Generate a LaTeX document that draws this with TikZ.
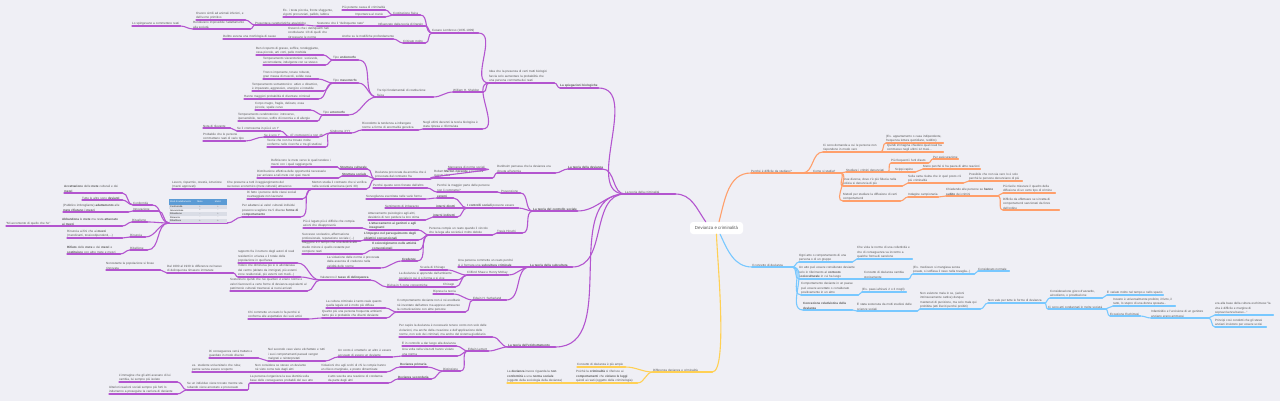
\documentclass[tikz,border=0pt]{standalone}
\usepackage{fontspec}
\setmainfont{Liberation Sans}
\usetikzlibrary{positioning}
\definecolor{bgcol}{HTML}{EFEFF5}
\definecolor{txtcol}{HTML}{555555}
\definecolor{purcol}{HTML}{B355CF}
\definecolor{orgcol}{HTML}{FF9F6B}
\definecolor{blucol}{HTML}{78C8FF}
\definecolor{yelcol}{HTML}{FFD054}
\definecolor{tblhead}{HTML}{5B9BD5}
\definecolor{tblrow}{HTML}{DADDE6}
\tikzset{
  tpc/.style={anchor=south west,inner xsep=0pt,inner ysep=0.7pt,align=left,text=txtcol,font=\fontsize{3.05}{4.4}\selectfont,execute at begin node={\rightskip=-30pt plus 1fil\relax}},
  wd/.style={text width=#1pt},
  pl/.style={purcol,line width=1.1pt,line cap=round},
  ol/.style={orgcol,line width=1.1pt,line cap=round},
  bl/.style={blucol,line width=1.1pt,line cap=round},
  yl/.style={yelcol,line width=1.1pt,line cap=round},
  pur/.style={tpc,wd=#1,append after command={(\tikzlastnode.south west) edge[pl] (\tikzlastnode.south east)}},
  org/.style={tpc,wd=#1,append after command={(\tikzlastnode.south west) edge[ol] (\tikzlastnode.south east)}},
  blu/.style={tpc,wd=#1,append after command={(\tikzlastnode.south west) edge[bl] (\tikzlastnode.south east)}},
  yel/.style={tpc,wd=#1,append after command={(\tikzlastnode.south west) edge[yl] (\tikzlastnode.south east)}},
  tbltxt/.style={inner sep=0pt,text=txtcol,font=\fontsize{2.3}{2.6}\selectfont},
}
\begin{document}
\begin{tikzpicture}[x=1pt,y=-1pt]
\fill[bgcol] (0,0) rectangle (1280,401);
\useasboundingbox (0,0) rectangle (1280,401);
\node[fill=white,rounded corners=3pt,text=txtcol,font=\fontsize{4.4}{5}\selectfont,minimum width=53pt,minimum height=12pt,inner sep=0pt] (center) at (716.5,228) {Devianza e criminalità};
% viola: biologia
\node[pur=50] (crim) at (625,194) {La teoria della criminalità};
\node[pur=38] (biol) at (560,88) {\textbf{La spiegazioni biologiche}};
\node[pur=65] (idea) at (489,83) {Idea che la presenza di certi tratti biologici\\faccia solo aumentare la probabilità che\\una persona commetta dei reati};
\node[pur=46] (lomb) at (432,33) {Cesare Lombroso (1835-1909)};
\node[pur=30] (shel) at (453,92) {William H. Sheldon};
\node[pur=59] (negli) at (423,129) {Negli ultimi decenni la teoria biologica è\\stata ripresa e riformulata};
\node[pur=27] (cost) at (393,15) {Costituzione fisica};
\node[pur=47] (darw) at (378,26) {Influenzato dalla teoria di Darwin};
\node[pur=22] (crit) at (403,43) {Criticato molto};
\node[pur=43] (pote) at (342,10) {Più potente causa di criminalità};
\node[pur=30] (cran) at (355,17) {Importanza al cranio};
\node[pur=55] (zigo) at (283,17) {Es. i testa piccola, fronte sfuggente,\\zigomi pronunciati, pallido, labbra};
\node[pur=58] (sost) at (317,26) {Sostenne che il "delinquente nato"};
\node[pur=48] (pres) at (255,25) {Presentava caratteristiche atavistiche};
\node[pur=49] (ovve) at (196,20) {Ovvero simili ad animali inferiori, e\\dell'uomo primitivo};
\node[pur=57] (rend) at (193,29) {Rendevano impossibile l'adattamento\\alla società};
\node[pur=48] (spin) at (132,26) {Lo spingevano a commettere reati};
\node[pur=51] (anch) at (342,39) {Anche su le modifiche profondamente};
\node[pur=50] (osse) at (288,39) {Osservò che i delinquenti nati\\costituivano 1/3 di quelli che\\ritrovavano le norme};
\node[pur=54] (deli) at (223,39) {Delitto avrena una morfologia di cause};
\node[pur=56] (tre) at (377,97) {Tre tipi fondamentali di costituzione\\fisica};
\node[pur=25] (endo) at (333,60) {Tipo \textbf{endomorfo}};
\node[pur=25] (meso) at (333,83) {Tipo \textbf{mesomorfo}};
\node[pur=25] (ecto) at (323,115) {Tipo \textbf{ectomorfo}};
\node[pur=67] (ben) at (256,55) {Ben ricoperto di grasso, soffice, tondeggiante,\\ossa piccole, arti corti, pelle morbida};
\node[pur=62] (visc) at (263,65) {Temperamento viscerotonico: socievole,\\accomodante, indulgente con se stesso};
\node[pur=55] (tron) at (263,79) {Tronco imponente, torace robusto,\\gran massa di muscoli, solide ossa};
\node[pur=71] (soma) at (252,91) {Temperamento somatotonico: attivo e dinamico,\\è impazzato, aggressivo, energico e instabile};
\node[pur=74] (hann) at (244,99) {Hanno maggiori probabilità di diventare criminali};
\node[pur=55] (magr) at (255,110) {Corpo magro, fragile, delicato, ossa\\piccole, spalle curve};
\node[pur=79] (cere) at (238,121) {Temperamento cerebrotonico: introverso,\\ipersensibile, nervoso, soffre di insonnia e di allergie};
\node[pur=56] (rico) at (362,130) {Ricondotto la tendenza a infrangere\\norme a forme di anormalità genetica};
\node[pur=21] (xyy) at (330,133) {Sindrome XYY};
\node[pur=28] (c47) at (290,137) {47 cromosomi e non 46};
\node[pur=58] (teor) at (267,147) {Teorie che non ha trovato molte\\conferme nelle ricerche e tra gli studiosi};
\node[pur=43] (seil) at (237,131) {Se il cromosoma in più è un Y};
\node[pur=16] (seuno) at (264,137) {Se è uno Y};
\node[pur=27] (nota) at (203,128) {Nota di rilevante};
\node[pur=42] (prob) at (203,141) {Probabile che le persone\\commettano reati di vario tipo};
% viola: anomia
\node[pur=34] (devt) at (568,169) {\textbf{La teoria della devianza}};
\node[pur=58] (durk) at (497,173) {Durkheim pensava che la devianza era\\dovuta all'anomia};
\node[pur=58] (mert) at (434,178) {Robert \textbf{Merton riprende} e rielabora\\questa idea};
\node[pur=37] (manc) at (448,169) {Mancanza di norme sociali};
\node[pur=55] (prov) at (375,179) {Devianza provocata da anomia che è\\provocata dal contrasto fra};
\node[pur=27] (scul) at (340,169) {\textbf{Struttura culturale}};
\node[pur=25] (ssoc) at (342,176) {\textbf{Struttura sociale}};
\node[pur=54] (mstu) at (312,189) {Merton studia il contrasto che si verifica\\nella società americana (anni 30)};
\node[pur=66] (defi) at (271,167) {Definiscono le mete verso le quali tendere i\\mezzi con i quali raggiungerle};
\node[pur=81] (dist) at (257,178) {Distribuzione effettiva delle opportunità necessarie\\per arrivare a tali mete con quei mezzi};
\node[pur=83] (pred) at (227,189) {Che presume a tutti il raggiungimento del\\successo economico (mete culturali) attraverso};
\node[pur=55] (fatt) at (247,199) {Di fatto i persone delle classi sociali\\svantaggiate non lavorano};
\node[pur=58] (adat) at (242,217) {Per adattarsi ai valori culturali individui\\possono scegliere tra 5 diverse \textbf{forme di}\\\textbf{comportamento}};
\node[pur=51] (lavo) at (172,189) {Lavoro, risparmio, onestà, istruzione\\(mezzi approvati)};
\node[pur=58,minimum height=24pt] (tbl) at (169,223) {};
\fill[tblhead] (169,199) rectangle (227,205);
\node[tbltxt,text=white,anchor=west] (thd1) at (170,202) {Modi di adattamento};
\node[tbltxt,text=white] (thd2) at (200,202) {Mete};
\node[tbltxt,text=white] (thd3) at (218,202) {Mezzi};
\foreach \nm/\mt/\mz [count=\i] in {Conformità/+/+,Innovazione/+/-,Ritualismo/-/+,Rinuncia/-/-,Ribellione/+\,-/+\,-}{
  \ifodd\i \fill[tblrow] (169,{201.5+3.5*\i}) rectangle (227,{205+3.5*\i}); \fi
  \node[tbltxt,anchor=west] (tn\i) at (170,{203.3+3.5*\i}) {\textbf{\nm}};
  \node[tbltxt] (tm\i) at (200,{203.3+3.5*\i}) {\mt};
  \node[tbltxt] (tz\i) at (218,{203.3+3.5*\i}) {\mz};
}
\node[pur=19] (conf) at (133,205) {Conformità};
\node[pur=25] (inno) at (133,211) {Innovazione};
\node[pur=15] (ritu) at (132,222) {Ritualismo};
\node[pur=15] (rinu) at (130,237) {Rinuncia};
\node[pur=17] (ribe) at (130,250) {Ribellione};
\node[pur=58] (acce) at (64,193) {\textbf{Accettazione} delle \textbf{mete} culturali e dei\\\textbf{mezzi}};
\node[pur=40] (altr) at (82,200) {Tutte le altre sono \textbf{devianti}};
\node[pur=65] (putz) at (63,212) {(Pubblico imbrogliante) \textbf{adattamento} alle\\\textbf{mete rifiutano i mezzi}};
\node[pur=60] (abba) at (62,226) {\textbf{Abbandona} le \textbf{mete} ma resta \textbf{attaccato}\\\textbf{ai mezzi}};
\node[pur=54] (acco) at (6,226) {"Mi accontento di quello che ho"};
\node[pur=55] (rinf) at (67,238) {Rinuncia ai fini che ai \textbf{mezzi}\\(mendicanti, tossicodipendenti,...)};
\node[pur=53] (rifi) at (67,254) {\textbf{Rifiuto} delle \textbf{mete} e dei \textbf{mezzi} e\\\textbf{sostituisce} con altre mete e mezzi};
% viola: controllo
\node[pur=44] (ctrl) at (533,211) {\textbf{La teoria del controllo sociale}};
\node[pur=19] (prev) at (501,193) {Prevenzione};
\node[pur=60] (magg) at (437,192) {Perché la maggior parte delle persone\\non li commette?};
\node[pur=54] (fren) at (373,188) {Perché queste sono frenate dall'altro};
\node[pur=51] (csoc) at (467,208) {\textbf{I controlli sociali} possono essere};
\node[pur=16] (este) at (437,198) {\textbf{esterni}};
\node[pur=21] (idir) at (436,208) {\textbf{interni diretti}};
\node[pur=24] (iind) at (433,217) {\textbf{interni indiretti}};
\node[pur=59] (sorv) at (366,199) {Sorveglianza esercitata nelle varie forme};
\node[pur=37] (imba) at (385,208) {Sentimento di imbarazzo};
\node[pur=57] (atta) at (368,220) {Attaccamento psicologico agli altri,\\desiderio di non perdere la loro stima};
\node[pur=25] (hirs) at (497,233) {Travis Hirschi};
\node[pur=63] (comp) at (429,235) {Persona compie un reato quando il vincolo\\che la lega alla società è molto debole};
\node[pur=49] (lattg) at (369,230) {\textbf{L'attaccamento ai genitori e agli}\\\textbf{insegnanti}};
\node[pur=54] (limp) at (364,240) {\textbf{L'impegno nel perseguimento degli}\\\textbf{obiettivi convenzionali}};
\node[pur=46] (lcoi) at (372,250) {\textbf{Il coinvolgimento nelle attività}\\\textbf{convenzionali}};
\node[pur=15] (cred) at (402,261) {\textbf{Credenze}};
\node[pur=59] (lega) at (303,228) {Più è legato più è difficile che compia\\azioni che disapproverà};
\node[pur=58] (succ) at (302,241) {Successo scolastico, affermazione\\professionale, reputazione sociale (...)};
\node[pur=60] (temp) at (302,254) {Maggiore è il tempo che una dedica allo\\studio minore è quello restante per\\compiere reati};
\node[pur=53] (viol) at (327,268) {La violazione delle norme è provocata\\dalla assenza di credenze nella\\validità delle norme};
% viola: subcultura
\node[pur=42] (subc) at (530,267) {\textbf{La teoria della subcultura}};
\node[pur=64] (form) at (458,267) {Una persona commette un reato perché\\si è formata una \textbf{subcultura criminale}};
\node[pur=41] (shaw) at (467,275) {Clifford Shaw e Henry McKay};
\node[pur=33] (suth) at (473,300) {Edwin H. Sutherland};
\node[pur=27] (schi) at (420,270) {Scuola di Chicago};
\node[pur=58] (appr) at (399,280) {La devianza si apprende dall'ambiente\\sociale in cui ci si forma e si vive};
\node[pur=12] (chic) at (443,287) {Chicago};
\node[pur=41] (divi) at (387,287) {Divisa in 5 zone concentriche};
\node[pur=50] (valu) at (320,280) {Valutarono il \textbf{tasso di delinquenza}};
\node[pur=59] (rapp) at (238,263) {rapporto fra il numero degli autori di reati\\residenti in un'area e il totale della\\popolazione in quell'area};
\node[pur=62] (vide) at (238,277) {Videro che diminuiva più si si allontanava\\dal centro (abitato da immigrati, più esterni\\zone residenziali, più esterni ceti medi...)};
\node[pur=77] (squa) at (230,291) {Sostennero quindi che nei quartieri vi erano norme e\\valori favorevoli a certe forme di devianza equivalenti al\\patrimonio culturali trasmessi ai nuovi arrivati};
\node[pur=66] (dal) at (167,273) {Dal 1900 al 1930 le differenze nel tasso\\di delinquenza rimasero immutate};
\node[pur=54] (nono) at (106,270) {Nonostante la popolazione si fosse\\rinnovata};
\node[pur=20] (ripr) at (433,294) {Riprese la teoria};
\node[pur=68] (cmpd) at (397,312) {Il comportamento deviante non è né ereditario\\né inventato dall'attore ma appreso attraverso\\la comunicazione con altre persone};
\node[pur=59] (cult) at (326,308) {La cultura criminale è tanto reale quanto\\quella legale ed è molto più diffusa};
\node[pur=64] (quan) at (322,318) {Quanto più una persona frequenta ambienti\\tanto più è probabile che diventi deviante};
\node[pur=60] (chie) at (248,319) {Chi commette un reato lo fa perché si\\conforma alle aspettative dei suoi amici};
% viola: etichettamento
\node[pur=47] (etic) at (508,347) {\textbf{La teoria dell'etichettamento}};
\node[pur=93] (peca) at (399,337) {Per capire la devianza è necessario tenere conto non solo delle\\violazioni, ma anche della creazione e dell'applicazione delle\\norme, non solo dei criminali, ma anche del sistema giudiziario.};
\node[pur=20] (lemt) at (468,351) {Edwin Lemert};
\node[pur=54] (cont) at (402,346) {È in controllo a dar luogo alla devianza};
\node[pur=55] (volt) at (402,356) {Una volta nella vita tutti hanno violato\\una norma};
\node[pur=17] (dstz) at (443,371) {Distinzione};
\node[pur=27] (prim) at (400,367) {\textbf{Devianza primaria}};
\node[pur=33] (seco) at (398,379) {\textbf{Devianza secondaria}};
\node[pur=54] (ucon) at (338,357) {Un conto è ometterlo un altro è essere\\accusato di essere un deviante};
\node[pur=65] (vagl) at (321,372) {Violazioni che agli occhi di chi le compie hanno\\un rilievo marginale, e presto dimenticate};
\node[pur=60] (latt) at (328,383) {L'atto suscita una reazione di condanna\\da parte degli altri};
\node[pur=57] (nels) at (268,361) {Nel secondo caso viene etichettato e tutti\\i suoi comportamenti passati vengon\\malgrati e reinterpretati};
\node[pur=49] (dico) at (209,358) {Di conseguenza verrà trattato e\\guardato in modo diverso};
\node[pur=52] (ncon) at (255,372) {Non considera se stesso un deviante\\né visto come tale dagli altri};
\node[pur=55] (stud) at (192,372) {es. studente universitario che ruba;\\penne senza essere scoperto};
\node[pur=63] (lape) at (250,383) {La persona riorganizza la sua identità sulla\\base delle conseguenze probabili del suo atto};
\node[pur=60] (seun) at (187,390) {Se un individuo viene trovato mentre sta\\rubando viene arrestato e processato};
\node[pur=58] (limm) at (119,382) {L'immagine che gli altri avevano di lui\\cambia, lui sempre più isolato};
\node[pur=68] (ulte) at (109,394) {Ulteriori reazioni sociali sempre più forti lo\\indurranno a proseguire la carriera di deviante};
% giallo
\node[yel=59] (diff) at (653,372) {Differenza devianza e criminalità};
\node[yel=48] (conc) at (577,367) {Concetto di devianza è più ampio};
\node[yel=61] (poic) at (576,383) {Poiché la \textbf{criminalità} si riferisce ai\\\textbf{comportamenti} che \textbf{violano le leggi}\\quindi ai reati (oggetto della criminologia)};
\node[yel=56] (ldev) at (507,383) {La \textbf{devianza} invece riguarda la \textbf{non}\\\textbf{conformità} a una \textbf{norma sociale}\\(oggetto della sociologia della devianza)};
% arancione
\node[org=51] (perc) at (751,173) {Perché è difficile da studiare?};
\node[org=57] (ciso) at (823,152) {Ci sono domande a cui le persone non\\rispondono in modo vero};
\node[org=27] (come) at (813,173) {Come si studia?};
\node[org=57] (esap) at (886,143) {(Es. appartamento o casa indipendente,\\frequenza lettura quotidiano, reddito)};
\node[org=56] (quin) at (887,152) {Quindi immagina chiedere quali reati ha\\commesso negli ultimi 12 mesi...};
\node[org=41] (scri) at (846,172) {Studiare i crimini denunciati};
\node[org=37] (piuf) at (891,163) {Più frequenti i furti d'auto};
\node[org=20] (scip) at (895,172) {Scippi rapine};
\node[org=25] (pera) at (933,159) {Per assicurazione};
\node[org=57] (meno) at (923,169) {Meno perché si ha paura di altre reazioni};
\node[org=59] (aree) at (843,186) {Aree diverse, dove c'è più fiducia nella\\polizia si denuncia di più};
\node[org=55] (sull) at (908,183) {Sulla carta risulta che in quel posto c'è\\più criminalità};
\node[org=53] (poss) at (969,181) {Possibile che non sia vero lo è solo\\perché le persone denunciano di più};
\node[org=57] (meto) at (843,201) {Metodi per studiare la diffusione di certi\\comportamenti};
\node[org=30] (inda) at (908,197) {Indagine campionaria};
\node[org=51] (chid) at (946,196) {Chiedendo alle persone se \textbf{hanno}\\\textbf{subito} dei crimini};
\node[org=52] (faci) at (1003,193) {Più facile misurare il quadro della\\diffusione di un certo tipo di crimine};
\node[org=56] (diffi) at (1003,210) {Difficile da effettuare se si tratta di\\comportamenti sanzionati da forze\\dell'ordine};
% azzurro
\node[blu=40] (cdev) at (752,267) {Il concetto di devianza};
\node[blu=53] (ogni) at (799,262) {Ogni atto o comportamento di una\\persona o di un gruppo};
\node[blu=61] (unat) at (799,279) {Un atto può essere considerato deviante\\solo in riferimento al \textbf{contesto}\\\textbf{socioculturale} in cui ha luogo};
\node[blu=57] (cpae) at (801,295) {Comportamento deviante in un paese\\può essere accettato o considerato\\positivamente in un altro};
\node[blu=49] (crel) at (803,310) {\textbf{Concezione relativistica della}\\\textbf{devianza}};
\node[blu=55] (chev) at (857,259) {Che viola le norme di una collettività e\\che di conseguenza va incontro a\\qualche forma di sanzione};
\node[blu=44] (cstr) at (864,279) {Concetto di devianza cambia\\storicamente};
\node[blu=61] (medi) at (913,274) {(Es. medioevo si mangiava senza\\posate, si soffiava il naso nella tovaglia...)};
\node[blu=31] (cnor) at (978,271) {Considerato normale};
\node[blu=44] (paes) at (862,292) {(Es. paesi africani 2 o 3 mogli)};
\node[blu=60] (esta) at (857,311) {È stata sostenuta da molti studiosi delle\\scienze sociali};
\node[blu=60] (nonm) at (920,309) {Non esistono mala in se, (azioni\\intrinsecamente cattive) dunque\\mantenuti di punizione, ma solo mala qui\\prohibita (atti illeciti perché proibiti)};
\node[blu=56] (nval) at (988,303) {Non vale per tutte le forme di devianza};
\node[blu=52] (cons) at (1050,298) {Considerazione gioco d'azzardo,\\alcoolismo, o prostituzione};
\node[blu=57] (cisa) at (1048,309) {Ci sono atti condannati in molte società};
\node[blu=56] (evar) at (1107,295) {È variato molto nel tempo e nello spazio};
\node[blu=62] (ince) at (1113,306) {Incesto è universalmente proibito; il furto, il\\ratto, lo stupro di una donna sposata...};
\node[blu=30] (ecce) at (1110,316) {Eccezione Eschimesi};
\node[blu=57] (infa) at (1151,318) {Infanticidio e l'uccisione di un genitore\\anziano erano ammessi};
\node[blu=58] (erab) at (1215,315) {era alla base della cultura eschimese:"la\\vita è difficile e margine di\\sopravvivenza basso..."};
\node[blu=51] (prin) at (1215,327) {Principi così condotti che gli stessi\\anziani insistono per essere uccisi};
% connettori
\foreach \a/\b in {crim/biol,crim/devt,crim/ctrl,crim/subc,crim/etic,biol/idea,idea/lomb,idea/shel,idea/negli,lomb/cost,lomb/darw,lomb/crit,cost/pote,cost/cran,cran/zigo,darw/sost,sost/pres,pres/ovve,pres/rend,rend/spin,crit/anch,anch/osse,osse/deli,shel/tre,tre/endo,tre/meso,tre/ecto,endo/ben,endo/visc,meso/tron,meso/soma,meso/hann,ecto/magr,ecto/cere,negli/rico,rico/xyy,xyy/c47,xyy/teor,c47/seil,c47/seuno,seil/nota,seuno/prob,devt/durk,durk/mert,mert/manc,mert/prov,prov/scul,prov/ssoc,prov/mstu,scul/defi,ssoc/dist,mstu/pred,mstu/fatt,mstu/adat,pred/lavo,adat/tbl,tbl/conf,tbl/inno,tbl/ritu,tbl/rinu,tbl/ribe,conf/acce,conf/altr,inno/putz,ritu/abba,abba/acco,rinu/rinf,ribe/rifi,ctrl/prev,ctrl/csoc,ctrl/hirs,prev/magg,magg/fren,csoc/este,csoc/idir,csoc/iind,este/sorv,idir/imba,iind/atta,hirs/comp,comp/lattg,comp/limp,comp/lcoi,comp/cred,lattg/lega,limp/succ,lcoi/temp,cred/viol,subc/form,subc/shaw,subc/suth,shaw/schi,shaw/appr,shaw/chic,chic/divi,divi/valu,valu/rapp,valu/vide,valu/squa,vide/dal,dal/nono,suth/ripr,suth/cmpd,cmpd/cult,cmpd/quan,quan/chie,etic/peca,etic/lemt,lemt/cont,lemt/volt,lemt/dstz,volt/ucon,ucon/nels,nels/dico,dstz/prim,dstz/seco,prim/vagl,vagl/ncon,ncon/stud,seco/latt,latt/lape,lape/seun,seun/limm,seun/ulte}
  \draw[pl] (\a.south west) to[out=180,in=0] (\b.south east);
\foreach \a/\b in {diff/conc,diff/poic,poic/ldev}
  \draw[yl] (\a.south west) to[out=180,in=0] (\b.south east);
\foreach \a/\b in {perc/ciso,perc/come,ciso/esap,ciso/quin,come/scri,come/aree,come/meto,scri/piuf,scri/scip,piuf/pera,scip/meno,aree/sull,sull/poss,meto/inda,inda/chid,chid/faci,chid/diffi}
  \draw[ol] (\a.south east) to[out=0,in=180] (\b.south west);
\foreach \a/\b in {cdev/ogni,cdev/unat,cdev/cpae,cdev/crel,ogni/chev,unat/cstr,cstr/medi,medi/cnor,cpae/paes,crel/esta,esta/nonm,nonm/nval,nval/cons,nval/cisa,cons/evar,cisa/ince,cisa/ecce,ecce/infa,infa/erab,infa/prin}
  \draw[bl] (\a.south east) to[out=0,in=180] (\b.south west);
\draw[pl] (crim.south east) to[out=0,in=125] (center.150);
\draw[ol] (center.68) to[out=75,in=180] (perc.south west);
\draw[bl] (center.-60) to[out=-65,in=180] (cdev.south west);
\draw[yl] (center.south) to[out=-90,in=0,looseness=0.3] (diff.south east);
\end{tikzpicture}
\end{document}
